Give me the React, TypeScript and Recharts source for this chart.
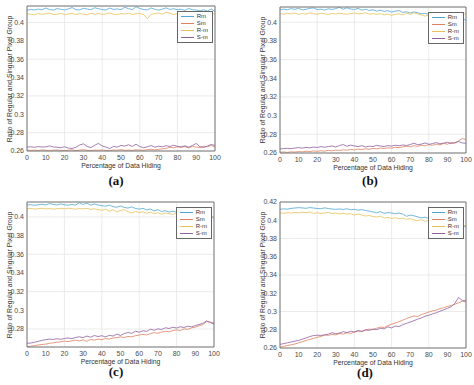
import { CartesianGrid, Line, LineChart, XAxis, YAxis } from 'recharts'

// percentage of data hiding (x)
const pct = [
  0, 2, 4, 6, 8, 10, 12, 14, 16, 18, 20, 22, 24, 26, 28, 30, 32, 34, 36, 38, 40, 42, 44, 46, 48, 50,
  52, 54, 56, 58, 60, 62, 64, 66, 68, 70, 72, 74, 76, 78, 80, 82, 84, 86, 88, 90, 92, 94, 96, 98, 100,
]
const xTicks = [0, 10, 20, 30, 40, 50, 60, 70, 80, 90, 100]
const yTicksAB = [0.26, 0.28, 0.3, 0.32, 0.34, 0.36, 0.38, 0.4]
const yTicksC = [0.28, 0.3, 0.32, 0.34, 0.36, 0.38, 0.4]
const yTicksD = [0.26, 0.28, 0.3, 0.32, 0.34, 0.36, 0.38, 0.4, 0.42]

// ratios, in thousandths
const rmA = [
  413.5, 414.2, 413.8, 414.6, 413.9, 415.8, 414.1, 413.6, 415.2, 414.4,
  413.7, 414.9, 416.3, 414.0, 413.8, 415.5, 414.7, 413.9, 416.1, 415.0,
  414.2, 413.6, 415.7, 414.3, 414.8, 413.9, 416.6, 415.1, 414.0, 417.2,
  415.3, 414.1, 413.8, 415.9, 414.4, 413.5, 414.6, 416.0, 414.2, 415.1,
  413.9, 414.5, 413.2, 415.3, 414.0, 413.6, 412.8, 413.9, 412.5, 414.8,
  412.1,
]
const rnA = [
  409.4, 409.0, 408.6, 409.8, 408.9, 409.5, 410.2, 408.7, 409.1, 409.9,
  408.5, 409.3, 410.0, 408.8, 409.6, 409.2, 408.4, 410.1, 409.0, 409.7,
  408.9, 409.4, 410.3, 409.1, 408.6, 409.8, 409.3, 410.0, 408.8, 409.5,
  409.9, 408.7, 404.3, 408.9, 409.6, 410.4, 409.2, 411.0, 410.3, 408.5,
  409.8, 411.2, 410.5, 409.9, 411.4, 410.6, 410.1, 411.6, 410.8, 410.2,
  409.0,
]
const smA = [
  261.0, 260.6, 260.9, 260.5, 261.2, 260.7, 260.4, 260.9, 261.1, 260.6,
  260.3, 260.8, 261.3, 260.5, 260.9, 261.4, 260.7, 260.5, 261.0, 260.8,
  261.2, 260.6, 260.4, 261.1, 260.9, 261.5, 260.7, 261.0, 260.6, 261.3,
  261.0, 260.8, 261.4, 261.9, 261.2, 261.8, 262.4, 262.9, 264.1, 263.5,
  264.6, 263.9, 264.8, 263.4, 265.0, 264.2, 263.8, 265.3, 264.6, 266.1,
  264.3,
]
const snA = [
  264.2, 264.6, 264.0, 264.8, 264.3, 264.5, 265.6, 264.4, 264.1, 263.5,
  264.7, 263.2, 262.8, 264.0, 266.5, 267.8, 264.9, 263.7, 266.2, 268.3,
  265.5, 264.3, 262.6, 265.0, 264.2, 266.1, 265.3, 266.8, 265.0, 267.4,
  264.8, 263.6, 264.5, 266.0, 264.1, 265.2, 264.6, 265.8, 264.9, 266.3,
  265.1, 264.5, 265.7, 264.2, 266.0, 268.2, 264.6, 263.8, 265.4, 267.2,
  266.0,
]

const rmB = [
  413.6, 414.0, 413.4, 414.5, 413.8, 414.9, 413.2, 413.9, 414.8, 415.3,
  413.5, 414.1, 413.0, 414.4, 413.7, 414.6, 416.0, 413.9, 415.4, 414.2,
  413.6, 414.8, 412.9, 413.8, 412.6, 413.3, 411.8, 412.9, 411.6, 412.4,
  410.8, 411.9, 412.5, 410.4, 411.2, 409.8, 411.0, 410.2, 408.9, 409.6,
  408.4, 409.3, 407.8, 406.5, 408.2, 407.0, 406.2, 407.6, 405.9, 404.1,
  402.0,
]
const rnB = [
  409.2, 408.6, 409.5, 408.9, 409.8, 408.4, 409.3, 408.7, 409.9, 409.1,
  408.5, 409.6, 408.9, 408.3, 409.4, 408.8, 409.7, 409.0, 408.6, 409.3,
  409.8, 408.9, 409.4, 410.2, 408.7, 409.1, 408.5, 409.2, 407.9, 408.6,
  407.4, 408.3, 409.1, 407.8, 409.6, 408.4, 410.1, 408.8, 407.9, 406.5,
  407.7, 406.8, 405.4, 407.1, 406.3, 405.7, 406.9, 405.2, 406.0, 407.3,
  409.8,
]
const smB = [
  260.8, 261.1, 260.6, 261.3, 261.0, 261.6, 261.2, 261.9, 261.5, 262.2,
  261.8, 262.4, 262.0, 262.8, 262.3, 263.1, 262.7, 263.4, 263.0, 263.8,
  263.3, 264.2, 263.7, 264.5, 264.0, 264.9, 264.4, 265.3, 264.8, 265.6,
  265.2, 266.1, 265.7, 266.5, 267.2, 266.6, 267.8, 267.1, 268.4, 267.6,
  269.0, 268.2, 269.5, 268.7, 270.3, 269.4, 271.2, 270.5, 273.0, 275.6,
  274.2,
]
const snB = [
  264.4, 264.7, 265.0, 264.6, 265.3, 265.8, 265.2, 266.0, 265.5, 266.3,
  265.9, 266.8, 266.2, 266.9, 267.5, 266.4, 268.1, 269.0, 267.2, 268.4,
  267.6, 266.8, 267.9, 266.5, 267.3, 266.9, 268.2, 267.5, 266.8, 268.0,
  267.4, 268.3, 267.7, 268.6, 268.0, 269.1, 270.4, 268.9, 269.5, 270.8,
  269.3, 270.0, 271.2, 269.8, 270.6, 271.5, 270.2, 271.0, 272.3, 270.8,
  270.4,
]

const rmC = [
  412.8, 413.2, 412.5, 413.0, 413.6, 412.9, 414.3, 413.5, 412.8, 413.9,
  413.1, 412.6, 413.4, 412.7, 415.2, 413.3, 414.8, 412.6, 413.9, 412.8,
  412.1, 411.5, 412.6, 411.0, 410.4, 411.7, 410.2, 409.5, 410.8, 409.0,
  408.4, 409.2, 407.5, 408.6, 406.3, 407.8, 405.8, 406.7, 405.2, 406.1,
  404.9, 405.6, 404.3, 405.2, 403.8, 404.5, 403.3, 404.0, 402.6, 401.2,
  398.5,
]
const rnC = [
  408.8, 409.1, 408.5, 408.9, 409.3, 408.6, 409.0, 408.4, 408.8, 409.2,
  408.7, 409.4, 408.9, 408.3, 409.0, 408.6, 409.2, 408.1, 408.7, 407.9,
  407.2, 408.4, 406.0, 407.6, 405.3, 406.9, 407.8, 405.6, 404.2, 405.9,
  404.8, 405.5, 403.9, 405.0, 403.4, 404.6, 403.0, 404.2, 403.5, 402.8,
  403.6, 402.4, 403.1, 401.9, 402.7, 401.5, 402.2, 401.0, 401.8, 400.6,
  400.2,
]
const smC = [
  261.0, 261.6, 262.2, 262.9, 263.4, 263.8, 264.6, 265.2, 265.8, 266.3,
  267.0, 266.5, 267.4, 268.0, 267.2, 268.4, 266.8, 268.9, 268.1, 269.2,
  268.5, 269.8, 269.1, 270.3, 270.8, 271.5, 270.9, 272.0, 271.6, 272.8,
  273.5, 274.2, 273.6, 275.0, 276.1, 275.4, 276.8, 277.5, 277.0, 278.3,
  279.0, 278.4, 280.1, 279.6, 281.2, 282.0, 283.4, 284.6, 288.1, 287.3,
  286.5,
]
const snC = [
  264.6, 265.0, 265.8, 266.7, 267.8, 268.6, 269.2, 268.8, 269.5, 269.0,
  269.8, 270.4, 269.7, 270.9, 271.6, 270.8, 272.4, 271.2, 273.0, 271.9,
  272.8, 271.5, 273.2, 272.4, 274.5, 273.1, 275.0, 276.2, 275.3, 277.6,
  276.5, 278.1, 277.4, 279.8, 278.6, 280.2, 279.4, 281.3, 280.5, 281.9,
  281.0, 282.4, 281.6, 283.0, 282.3, 283.6, 284.8, 286.0, 288.6, 286.9,
  285.2,
]

const rmD = [
  412.0, 412.5, 412.2, 413.0, 413.4, 413.8, 413.5, 413.1, 413.9, 413.4,
  412.9, 412.6, 413.6, 412.8, 412.3, 411.9, 412.4, 411.8, 412.6, 411.5,
  411.9, 411.1, 411.6, 410.7, 410.0, 409.1, 408.3, 409.5, 407.6, 408.4,
  407.9, 407.2, 407.8, 406.9, 404.3, 405.6, 404.9, 403.8, 402.6, 403.4,
  401.8, 400.4, 399.6, 398.9, 399.8, 398.5, 397.6, 396.8, 395.3, 394.2,
  392.6,
]
const rnD = [
  408.1, 407.6, 408.4, 407.9, 408.6, 408.2, 408.8, 408.3, 409.1, 407.4,
  408.2, 407.6, 407.9, 408.5, 407.3, 408.0, 406.9, 407.5, 406.6, 407.2,
  405.6, 406.8, 405.9, 404.6, 405.3, 404.0, 403.6, 404.4, 402.5, 403.2,
  402.0, 402.7, 401.6, 402.3, 401.0, 401.8, 400.3, 399.4, 400.6, 398.8,
  399.9, 398.2, 399.0, 397.5, 398.4, 397.0, 396.4, 397.2, 395.7, 394.8,
  394.0,
]
const smD = [
  261.0, 261.8, 262.7, 263.5, 264.4, 265.6, 266.9, 268.2, 269.4, 270.5,
  271.7, 272.6, 274.3, 273.8, 275.0, 274.4, 275.9, 275.2, 276.8, 276.0,
  277.4, 278.6, 277.9, 279.5, 280.8, 280.1, 281.7, 283.0, 282.4, 284.6,
  286.0, 287.4, 288.9, 290.6, 292.3, 293.8, 295.1, 294.6, 296.5, 298.0,
  299.4, 300.8, 301.5, 303.2, 304.1, 305.6, 306.4, 307.9, 309.6, 311.2,
  310.5,
]
const snD = [
  264.0, 264.8, 265.7, 266.6, 267.5, 268.4, 269.6, 271.0, 272.5, 273.6,
  274.0, 273.8, 274.4, 275.2, 276.8, 275.6, 276.4, 277.9, 276.8, 278.4,
  277.6, 279.1, 278.3, 280.0, 279.2, 280.8, 280.1, 281.6, 280.9, 283.2,
  282.0, 284.1, 283.5, 285.6, 287.0, 288.4, 289.9, 291.6, 293.0, 294.8,
  295.9, 297.3, 298.6, 300.3, 301.8, 303.5, 305.2, 309.0, 315.3, 312.2,
  311.8,
]

const SERIES = [
  { key: 'Rm', color: '#4ea6d2' },
  { key: 'Sm', color: '#e0805f' },
  { key: 'R-m', color: '#e6c258' },
  { key: 'S-m', color: '#8f5f9e' },
]

const FONT = '"Liberation Sans", Arial, sans-serif'
const Y_AXIS_W = 22
const X_AXIS_H = 12

type PanelDef = {
  left: number
  top: number
  w: number
  h: number
  // plot-area insets inside the panel box
  inset: { top: number; right: number; bottom: number; left: number }
  yDomain: [number, number]
  yTicks: number[]
  yLabelX: number
  capX: number
  capY: number
  caption: string
  rm: number[]
  sm: number[]
  rn: number[]
  sn: number[]
}

const panels: PanelDef[] = [
  {
    left: 0, top: 0, w: 237, h: 190,
    inset: { top: 6, right: 22, bottom: 39, left: 27 },
    yDomain: [0.26, 0.418], yTicks: yTicksAB,
    yLabelX: 8.5, capX: 116, capY: 181, caption: '(a)',
    rm: rmA, sm: smA, rn: rnA, sn: snA,
  },
  {
    left: 237, top: 0, w: 237, h: 190,
    inset: { top: 7, right: 8, bottom: 37, left: 43 },
    yDomain: [0.26, 0.4163], yTicks: yTicksAB,
    yLabelX: 25, capX: 133, capY: 181, caption: '(b)',
    rm: rmB, sm: smB, rn: rnB, sn: snB,
  },
  {
    left: 0, top: 190, w: 237, h: 195,
    inset: { top: 12, right: 23, bottom: 38, left: 27 },
    yDomain: [0.2607, 0.416], yTicks: yTicksC,
    yLabelX: 8.5, capX: 116, capY: 182, caption: '(c)',
    rm: rmC, sm: smC, rn: rnC, sn: snC,
  },
  {
    left: 237, top: 190, w: 237, h: 195,
    inset: { top: 12, right: 8, bottom: 37, left: 43 },
    yDomain: [0.26, 0.42], yTicks: yTicksD,
    yLabelX: 25, capX: 128, capY: 182.5, caption: '(d)',
    rm: rmD, sm: smD, rn: rnD, sn: snD,
  },
]

const fmt = (v: number) => String(Number(v.toFixed(2)))

function Panel({ p }: { p: PanelDef }) {
  const data = pct.map((x, i) => ({
    x,
    Rm: p.rm[i] / 1000,
    Sm: p.sm[i] / 1000,
    'R-m': p.rn[i] / 1000,
    'S-m': p.sn[i] / 1000,
  }))
  const plotH = p.h - p.inset.top - p.inset.bottom
  const margin = {
    top: p.inset.top - 1,
    right: p.inset.right - 1,
    bottom: p.inset.bottom - X_AXIS_H,
    left: p.inset.left - Y_AXIS_W,
  }
  const tick = { fontSize: 7, fill: '#4a4a4a', fontFamily: FONT }

  return (
    <div style={{ position: 'absolute', left: p.left, top: p.top, width: p.w, height: p.h }}>
      <LineChart width={p.w} height={p.h} data={data} margin={margin}>
        <CartesianGrid stroke="#e6e6e6" strokeWidth={0.8} xAxisId="bottom" yAxisId="left" />
        <XAxis
          xAxisId="bottom"
          dataKey="x"
          type="number"
          domain={[0, 100]}
          ticks={xTicks}
          height={X_AXIS_H}
          tickSize={0}
          tickMargin={4}
          tick={tick}
          stroke="#777"
          label={{ value: 'Percentage of Data Hiding', position: 'bottom', offset: 0, fontSize: 6.8, fill: '#333', fontFamily: FONT }}
        />
        <XAxis xAxisId="top" orientation="top" dataKey="x" type="number" domain={[0, 100]} height={1} tick={false} tickLine={false} stroke="#777" />
        <YAxis
          yAxisId="left"
          type="number"
          domain={p.yDomain}
          allowDataOverflow
          ticks={p.yTicks}
          tickFormatter={fmt}
          width={Y_AXIS_W}
          tickSize={0}
          tickMargin={3}
          tick={tick}
          stroke="#777"
        />
        <YAxis yAxisId="right" orientation="right" type="number" domain={p.yDomain} allowDataOverflow width={1} tick={false} tickLine={false} stroke="#777" />
        {SERIES.map((s) => (
          <Line
            key={s.key}
            xAxisId="bottom"
            yAxisId="left"
            dataKey={s.key}
            stroke={s.color}
            strokeWidth={0.8}
            dot={false}
            isAnimationActive={false}
          />
        ))}
      </LineChart>

      <div
        style={{
          position: 'absolute',
          left: p.yLabelX,
          top: p.inset.top + plotH / 2,
          transform: 'translate(-50%, -50%) rotate(-90deg)',
          whiteSpace: 'nowrap',
          fontSize: 6.8,
          color: '#333',
          fontFamily: FONT,
        }}
      >
        Ratio of Regular and Singular Pixel Group
      </div>

      <div
        style={{
          position: 'absolute',
          right: p.inset.right + 2,
          top: p.inset.top + 5,
          border: '1px solid #666',
          background: '#fff',
          padding: '1px 4px 1px 3px',
          fontFamily: FONT,
          fontSize: 6,
          lineHeight: '7px',
          color: '#333',
        }}
      >
        {SERIES.map((s) => (
          <div key={s.key} style={{ display: 'flex', alignItems: 'center' }}>
            <svg width={13} height={7}>
              <line x1={0} y1={3.5} x2={13} y2={3.5} stroke={s.color} strokeWidth={1} />
            </svg>
            <span style={{ marginLeft: 3 }}>{s.key}</span>
          </div>
        ))}
      </div>

      <div
        style={{
          position: 'absolute',
          left: p.capX,
          top: p.capY,
          transform: 'translate(-50%, -50%)',
          fontFamily: '"Liberation Serif", "Times New Roman", serif',
          fontWeight: 'bold',
          fontSize: 13,
          color: '#111',
        }}
      >
        {p.caption}
      </div>
    </div>
  )
}

export default function App() {
  return (
    <div style={{ position: 'absolute', left: 0, top: 0, width: 474, height: 385, background: '#fff' }}>
      {panels.map((p) => (
        <Panel key={p.caption} p={p} />
      ))}
    </div>
  )
}
